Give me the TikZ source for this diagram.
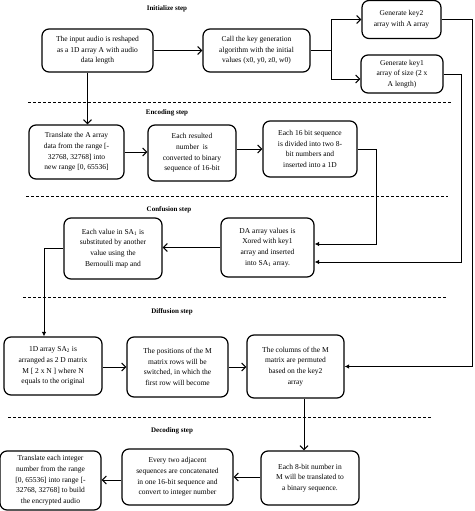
\documentclass[tikz,border=0pt]{standalone}
\usepackage{fontspec}
\setmainfont{Liberation Serif}
\usetikzlibrary{arrows.meta}
\begin{document}
\begin{tikzpicture}[x=1pt,y=-1pt,
	box/.style={draw, rounded corners=7pt, line width=1.2pt, fill=white, align=center, inner sep=1pt, font=\fontsize{7.5}{10.7}\selectfont},
	ttl/.style={font=\fontsize{7}{8}\selectfont\bfseries},
	arr/.style={line width=1pt, -{Straight Barb[length=4pt,width=8pt]}},
	farr/.style={line width=1pt, -{Latex[length=4.5pt,width=4.5pt]}},
	sep/.style={line width=0.9pt, dash pattern=on 3pt off 2pt}]
	\useasboundingbox (0,0) rectangle (474,511);
	% titles
	\node[ttl] (t1) at (167, 9) {Initialize step};
	\node[ttl] (t2) at (167, 113) {Encoding step};
	\node[ttl] (t3) at (169, 210) {Confusion step};
	\node[ttl] (t4) at (172, 312) {Diffusion step};
	\node[ttl] (t5) at (172, 431) {Decoding step};
	% dashed separators
	\draw[sep] (28, 102) -- (452, 102);
	\draw[sep] (26, 196) -- (448, 196);
	\draw[sep] (23, 297) -- (447, 297);
	\draw[sep] (8, 417) -- (432, 417);
	% initialize
	\node[box, minimum width=111, minimum height=43] (1) at (97.5, 50.5) {The input audio is reshaped\\as a 1D array A with audio\\data length};
	\node[box, minimum width=107, minimum height=43] (2) at (256.5, 50.5) {Call the key generation\\algorithm with the initial\\values (x0, y0, z0, w0)};
	\node[box, minimum width=79, minimum height=38] (3) at (401.5, 19.5) {Generate key2\\array with A array};
	\node[box, minimum width=82, minimum height=38] (4) at (402, 74) {Generate key1\\array of size (2 x\\A length)};
	% encoding
	\node[box, minimum width=95, minimum height=54] (5) at (76.5, 152) {Translate the A array\\data from the range [-\\32768, 32768] into\\new range [0, 65536]};
	\node[box, minimum width=88, minimum height=56] (6) at (192, 153) {Each resulted\\number~ is\\converted to binary\\sequence of 16-bit};
	\node[box, minimum width=94, minimum height=56] (7) at (310, 149) {Each 16 bit sequence\\is divided into two 8-\\bit numbers and\\inserted into a 1D};
	% confusion
	\node[box, minimum width=93, minimum height=59] (8) at (267.5, 247.5) {DA array values is\\Xored with key1\\array and inserted\\into SA\textsubscript{1} array.};
	\node[box, minimum width=98, minimum height=61] (9) at (113, 248.5) {Each value in SA\textsubscript{1} is\\substituted by another\\value using the\\Bernoulli map and};
	% diffusion
	\node[box, minimum width=98, minimum height=58] (10) at (53, 366) {1D array SA\textsubscript{2} is\\arranged as 2 D matrix\\M [ 2 x N ] where N\\equals to the original};
	\node[box, minimum width=101, minimum height=60] (11) at (177.5, 367) {The positions of the M\\matrix rows will be\\switched, in which the\\first row will become};
	\node[box, minimum width=97, minimum height=63] (12) at (295.5, 366.5) {The columns of the M\\matrix are permuted\\based on the key2\\array};
	% decoding
	\node[box, minimum width=98, minimum height=54] (13) at (310, 478) {Each 8-bit number in\\M will be translated to\\a binary sequence.};
	\node[box, minimum width=111, minimum height=56] (14) at (177.5, 477) {Every two adjacent\\sequences are concatenated\\in one 16-bit sequence and\\convert to integer number};
	\node[box, minimum width=101, minimum height=59] (15) at (50.5, 480.5) {Translate each integer\\number from the range\\{[0, 65536]} into range [-\\32768, 32768] to build\\the encrypted audio};
	% helper coordinates
	\coordinate (b) at (331, 50.5);
	\coordinate (k1) at (461, 0);
	\coordinate (k2) at (472.5, 0);
	\coordinate (e3) at (376, 0);
	\coordinate (c9) at (44, 0);
	% connectors
	\draw[arr] (1.east) -- (2.west);
	\draw[line width=1pt] (2.east) -- (b);
	\draw[arr] (b) |- (3.west);
	\draw[arr] (b) |- ([yshift=-5pt]4.west);
	\draw[arr] ([xshift=-10pt]1.south) -- ([xshift=-10pt]1.south |- 5.north);
	\draw[arr] (5.east) -- (5.east -| 6.west);
	\draw[arr] (7.west -| 6.east) -- (7.west);
	\draw[farr] (7.east) -- (7.east -| e3) |- ([yshift=3.5pt]8.east);
	\draw[farr] (4.east) -- (4.east -| k1) |- ([yshift=-14.5pt]8.east);
	\draw[arr] (8.west) -- (8.west -| 9.east);
	\draw[farr] (9.west) -- (9.west -| c9) -- (c9 |- 10.north);
	\draw[arr] (10.east |- 11.west) -- (11.west);
	\draw[arr] (11.east) -- (11.east -| 12.west);
	\draw[farr] (3.east) -- (3.east -| k2) |- (12.east);
	\draw[arr] ([xshift=8.5pt]12.south) -- ([xshift=8.5pt]12.south |- 13.north);
	\draw[arr] (13.west |- 14.east) -- (14.east);
	\draw[arr] ([yshift=-3pt]14.west) -- ([yshift=-3pt]14.west -| 15.east);
\end{tikzpicture}
\end{document}
